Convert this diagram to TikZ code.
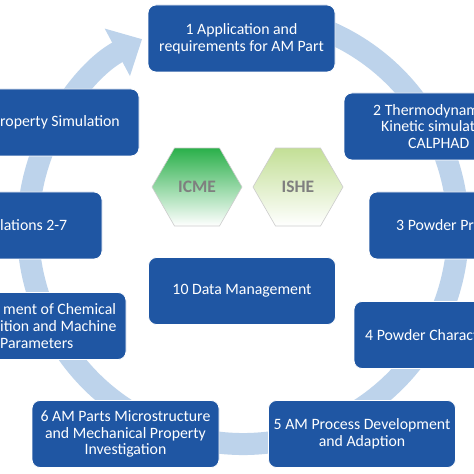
\documentclass[tikz,border=0pt]{standalone}
\usepackage{fontspec}
\setmainfont{Carlito}
\usepackage{tikz}
\usetikzlibrary{arrows.meta}
\usetikzlibrary{shapes,positioning}
\definecolor{boxblue}{HTML}{1F56A3}
\definecolor{ringblue}{HTML}{BDD3EB}
\definecolor{icmegreen}{HTML}{2AB04A}
\definecolor{ishegreen}{HTML}{C3DF96}
\definecolor{hexgray}{HTML}{7F7F7F}
\tikzset{stage/.style={fill=boxblue,draw=white,line width=0.8pt,rounded corners=8pt,
    minimum width=187pt,minimum height=67pt,text=white,align=center,
    font=\fontsize{15.8}{16.6}\selectfont},
  cut/.style={text=white,align=left,anchor=west,inner sep=0pt,
    font=\fontsize{15.8}{16.6}\selectfont},
  hexa/.style={regular polygon,regular polygon sides=6,minimum size=90pt,inner sep=0pt,
    draw=hexgray!40,line width=0.6pt,bottom color=white,text=hexgray,
    font=\fontsize{17.5}{19}\selectfont\bfseries}}

\begin{document}
\begin{tikzpicture}[x=1pt,y=1pt]
    \useasboundingbox (0,0) rectangle (474,474);
    \fill[white] (0,0) rectangle (474,474);
    \clip (0,0) rectangle (474,474);
    \coordinate (hub) at (243,245);
    \draw[ringblue,line width=22pt,-{Triangle[width=52pt,length=28pt]}]
      ([shift={(75:215pt)}]hub) arc[start angle=75,end angle=-242,radius=215pt];

    \node[stage] (s1) at (241.5,435.5) {1 Application and\\requirements for AM Part};
    \node[stage] (s2) at (437.5,347.5) {};
    \node[stage] (s3) at (462.5,248.5) {};
    \node[stage] (s4) at (447.5,139) {};
    \node[stage] (s5) at (362,40) {5 AM Process Development\\and Adaption};
    \node[stage] (s6) at (125.5,40) {6 AM Parts Microstructure\\and Mechanical Property\\Investigation};
    \node[stage] (s8) at (32.5,148) {};
    \node[stage] (s9) at (8.5,248.5) {};
    \node[stage] (s7) at (45.5,351.5) {};
    \node[stage] (s10) at (242,183) {10 Data Management};

    \node[cut] (t2) at (373,347.5) {2 Thermodynam\\\hspace*{8pt}Kinetic simulat\\\hspace*{35pt}CALPHAD};
    \node[cut] (t3) at (396,248.5) {3 Powder Pr};
    \node[cut] (t4) at (365,139) {4 Powder Charact};
    \node[cut] (t8) at (0,148) {\hspace*{3pt}ment of Chemical\\ition and Machine\\Parameters};
    \node[cut] (t9) at (0,248.5) {lations 2-7};
    \node[cut] (t7) at (0,351.5) {roperty Simulation};

    \node[hexa,top color=icmegreen] (icme) at (197,287) {ICME};
    \node[hexa,top color=ishegreen] (ishe) at (298,287) {ISHE};
  \end{tikzpicture}
\end{document}
